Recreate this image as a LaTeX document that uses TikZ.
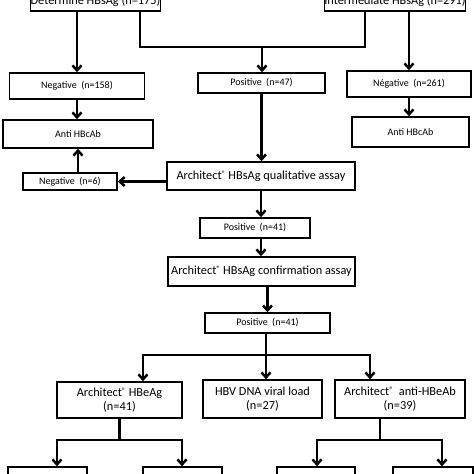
\documentclass[tikz,border=0pt]{standalone}
\usepackage{fontspec}
\setmainfont{Carlito}
\usetikzlibrary{arrows.meta}
\newcommand{\regmark}{\raisebox{.5ex}{\footnotesize ®}}

\begin{document}
\begin{tikzpicture}[x=1pt,y=-1pt,
  box/.style={draw,line width=1.5pt,inner sep=0pt,align=center},
  lbl/.style={font=\fontsize{10}{12}\selectfont},
  big/.style={font=\fontsize{12.3}{14.5}\selectfont},
  link/.style={line width=2.5pt},
  arr/.style={line width=2.5pt,-{Straight Barb[length=5pt,width=9pt]}}]
  \useasboundingbox (0,0) rectangle (474,474);
  % screening tests
  \node[box,big,minimum width=127pt,minimum height=20pt] (det) at (95.5,1) {Determine HBsAg (n=175)};
  \node[box,big,minimum width=118pt,minimum height=20pt] (intv) at (395,1) {Intermediate HBsAg (n=291)};
  \node[box,lbl,minimum width=135pt,minimum height=26pt] (neg1) at (77,86) {Negative\ \ (n=158)};
  \node[box,lbl,minimum width=127pt,minimum height=20pt] (pos47) at (261.5,83) {Positive\ \ (n=47)};
  \node[box,lbl,minimum width=124pt,minimum height=26pt] (neg2) at (409,84) {Négative\ \ (n=261)};
  \node[box,lbl,minimum width=150pt,minimum height=28pt] (anti1) at (78,134) {Anti HBcAb};
  \node[box,lbl,minimum width=117pt,minimum height=30pt] (anti2) at (410.5,132) {Anti HBcAb};
  % architect assays
  \node[box,lbl,minimum width=94pt,minimum height=17pt] (neg6) at (70,181.5) {Negative\ \ (n=6)};
  \node[box,big,minimum width=188pt,minimum height=28pt] (qual) at (261,176) {Architect\regmark{} HBsAg qualitative assay};
  \node[box,lbl,minimum width=110pt,minimum height=20pt] (pos41a) at (255,228) {Positive\ \ (n=41)};
  \node[box,big,minimum width=187pt,minimum height=29pt] (conf) at (261.5,271.5) {Architect\regmark{} HBsAg confirmation assay};
  \node[box,lbl,minimum width=125pt,minimum height=20pt] (pos41b) at (267.5,323) {Positive\ \ (n=41)};
  \node[box,big,minimum width=125pt,minimum height=36pt] (hbeag) at (119.5,400) {Architect\regmark{} HBeAg\\(n=41)};
  \node[box,big,minimum width=119pt,minimum height=38pt] (dna) at (262.5,399) {HBV DNA viral load\\(n=27)};
  \node[box,big,minimum width=130pt,minimum height=38pt] (antie) at (400,399) {Architect\regmark\ \ anti-HBeAb\\(n=39)};
  \foreach \n/\x/\w in {b1/47.5/79,b2/182.5/79,b3/316/78,b4/433/80} {
    \node[box,minimum width=\w pt,minimum height=33pt] (\n) at (\x,483.5) {};
  }
  % connectors
  \coordinate (jl) at (140,47);
  \coordinate (jm) at (262,47);
  \coordinate (jr) at (365,47);
  \draw[link] (jl |- det.south) -- (jl) -- (jr) -- (jr |- intv.south);
  \draw[arr] (jm) -- (jm |- pos47.north);
  \draw[arr] (neg1.north |- det.south) -- (neg1.north);
  \draw[arr] (neg2.north |- intv.south) -- (neg2.north);
  \draw[arr] (neg1.south) -- (anti1.north -| neg1.south);
  \draw[arr] (neg2.south) -- (anti2.north -| neg2.south);
  \draw[arr] (neg6.north -| anti1.south) -- (anti1.south);
  \draw[arr] (qual.west |- neg6.east) -- (neg6.east);
  \draw[arr] (pos47.south) -- (qual.north -| pos47.south);
  \draw[arr] (qual.south) -- (pos41a.north -| qual.south);
  \draw[arr] (pos41a.south -| qual.south) -- (conf.north -| qual.south);
  \draw[arr] (conf.south -| pos41b.north) -- (pos41b.north);
  \coordinate (sl) at (143,355);
  \coordinate (sm) at (266,355);
  \coordinate (sr) at (370,355);
  \draw[link] (pos41b.south -| sm) -- (sm);
  \draw[arr] (sm) -| (hbeag.north -| sl);
  \draw[arr] (sm) -| (antie.north -| sr);
  \draw[arr] (sm) -- (sm |- dna.north);
  \coordinate (el) at (57,440);
  \coordinate (er) at (182,440);
  \coordinate (fl) at (317,440);
  \coordinate (fr) at (442,440);
  \draw[link] (hbeag.south) -- (hbeag.south |- el);
  \draw[arr] (hbeag.south |- el) -| (b1.north -| el);
  \draw[arr] (hbeag.south |- el) -| (b2.north -| er);
  \draw[link] (antie.south -| 380,0) -- (380,440);
  \draw[arr] (380,440) -| (b3.north -| fl);
  \draw[arr] (380,440) -| (b4.north -| fr);
\end{tikzpicture}
\end{document}
